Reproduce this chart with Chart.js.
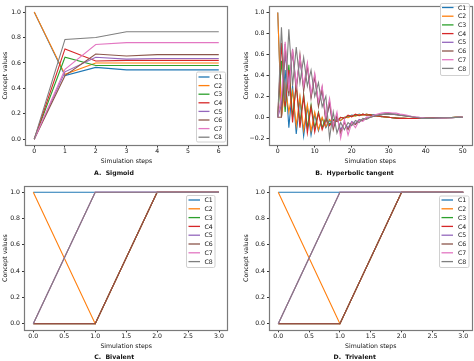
<!DOCTYPE html>
<html><head><meta charset="utf-8">
<script src="https://cdn.jsdelivr.net/npm/chart.js@4/dist/chart.umd.min.js"></script>
<style>
html,body{margin:0;padding:0;background:#fff;width:474px;height:361px;overflow:hidden;}
canvas{position:absolute;}
</style></head><body>
<canvas id="cA" width="237" height="180" style="left:0;top:0"></canvas>
<canvas id="cB" width="237" height="180" style="left:237px;top:0"></canvas>
<canvas id="cC" width="237" height="181" style="left:0;top:180px"></canvas>
<canvas id="cD" width="237" height="181" style="left:237px;top:180px"></canvas>
<script>
// ---------------- data ----------------
const conceptNames = ['C1','C2','C3','C4','C5','C6','C7','C8'];

const stepsSigmoid = [0,1,2,3,4,5,6];
const sigmoidC1 = [1, 0.50, 0.565, 0.545, 0.545, 0.545, 0.545];
const sigmoidC2 = [1, 0.51, 0.60, 0.60, 0.60, 0.60, 0.60];
const sigmoidC3 = [0, 0.645, 0.58, 0.58, 0.58, 0.58, 0.58];
const sigmoidC4 = [0, 0.71, 0.615, 0.62, 0.62, 0.62, 0.62];
const sigmoidC5 = [0, 0.53, 0.645, 0.63, 0.635, 0.635, 0.635];
const sigmoidC6 = [0, 0.50, 0.67, 0.655, 0.665, 0.665, 0.665];
const sigmoidC7 = [0, 0.55, 0.745, 0.76, 0.76, 0.76, 0.76];
const sigmoidC8 = [0, 0.785, 0.80, 0.845, 0.845, 0.845, 0.845];

const stepsTanh = [0,1,2,3,4,5,6,7,8,9,10,11,12,13,14,15,16,17,18,19,20,21,22,23,24,25,
  26,27,28,29,30,31,32,33,34,35,36,37,38,39,40,41,42,43,44,45,46,47,48,49,50];
const tanhC1 = [1, 0, 0.45, -0.1, 0.3, -0.16, 0.18, -0.18, 0.1, -0.17,
  0.03, -0.13, -0.01, -0.1, -0.03, -0.06, -0.02, -0.03, 0.0, 0.0,
  0.02, 0.015, 0.03, 0.02, 0.03, 0.02, 0.025, 0.01, 0.01, 0.0,
  0.0, -0.005, -0.005, -0.01, -0.01, -0.012, -0.012, -0.012, -0.01, -0.01,
  -0.01, -0.008, -0.007, -0.006, -0.005, -0.004, -0.003, -0.002, -0.001, 0, 0];
const tanhC2 = [1, 0, 0.3, 0.05, 0.25, -0.08, 0.2, -0.12, 0.12, -0.13,
  0.05, -0.12, 0.0, -0.09, -0.02, -0.06, -0.02, -0.03, 0.0, -0.005,
  0.015, 0.01, 0.025, 0.02, 0.03, 0.02, 0.02, 0.01, 0.01, 0.0,
  0.0, -0.005, -0.005, -0.01, -0.01, -0.01, -0.012, -0.012, -0.01, -0.01,
  -0.01, -0.008, -0.007, -0.006, -0.005, -0.004, -0.003, -0.002, -0.001, 0, 0];
const tanhC3 = [0, 0.54, 0.05, 0.5, 0.0, 0.3, -0.05, 0.22, -0.1, 0.12,
  -0.1, 0.05, -0.1, 0.0, -0.07, -0.02, -0.04, 0.0, -0.01, 0.015,
  0.005, 0.025, 0.015, 0.03, 0.02, 0.025, 0.015, 0.015, 0.005, 0.005,
  0.0, -0.005, -0.008, -0.01, -0.01, -0.012, -0.012, -0.01, -0.01, -0.01,
  -0.008, -0.008, -0.006, -0.005, -0.004, -0.003, -0.002, -0.002, -0.001, 0, 0];
const tanhC4 = [0, 0.71, 0.1, 0.45, -0.05, 0.33, -0.1, 0.2, -0.15, 0.1,
  -0.14, 0.04, -0.12, -0.02, -0.08, -0.03, -0.04, 0.0, -0.01, 0.02,
  0.005, 0.03, 0.015, 0.03, 0.02, 0.025, 0.01, 0.015, 0.005, 0.005,
  0.0, -0.005, -0.008, -0.01, -0.01, -0.012, -0.012, -0.01, -0.01, -0.01,
  -0.008, -0.008, -0.006, -0.005, -0.004, -0.003, -0.002, -0.002, -0.001, 0, 0];
const tanhC5 = [0, 0.12, 0.6, 0.3, 0.62, 0.3, 0.55, 0.28, 0.48, 0.2,
  0.38, 0.12, 0.25, -0.02, 0.12, -0.1, 0.0, -0.12, -0.05, -0.1,
  -0.04, -0.06, -0.02, -0.03, 0.0, 0.0, 0.02, 0.02, 0.03, 0.03,
  0.035, 0.03, 0.03, 0.02, 0.02, 0.01, 0.01, 0.0, 0.0, -0.005,
  -0.01, -0.01, -0.01, -0.008, -0.006, -0.005, -0.004, -0.003, -0.002, -0.001, 0];
const tanhC6 = [0, 0, 0.7, 0.2, 0.65, 0.25, 0.6, 0.25, 0.5, 0.18,
  0.4, 0.1, 0.28, -0.05, 0.15, -0.12, 0.02, -0.15, -0.05, -0.12,
  -0.05, -0.07, -0.03, -0.03, -0.01, 0.0, 0.01, 0.02, 0.025, 0.03,
  0.03, 0.03, 0.025, 0.02, 0.015, 0.01, 0.005, 0.0, -0.005, -0.008,
  -0.01, -0.01, -0.01, -0.008, -0.006, -0.005, -0.004, -0.003, -0.002, -0.001, 0];
const tanhC7 = [0, 0.2, 0.72, 0.25, 0.65, 0.3, 0.58, 0.3, 0.52, 0.22,
  0.42, 0.15, 0.3, 0.0, 0.18, -0.08, 0.05, -0.2, -0.02, -0.17,
  -0.05, -0.1, -0.03, -0.04, 0.0, 0.0, 0.02, 0.03, 0.04, 0.045,
  0.045, 0.04, 0.04, 0.03, 0.025, 0.02, 0.01, 0.005, 0.0, -0.005,
  -0.01, -0.01, -0.01, -0.01, -0.008, -0.006, -0.005, -0.003, -0.002, -0.001, 0];
const tanhC8 = [0, 0.86, 0.15, 0.84, 0.3, 0.67, 0.33, 0.57, 0.3, 0.45,
  0.2, 0.33, 0.1, 0.2, -0.2, 0.05, -0.15, -0.05, -0.12, -0.05,
  -0.08, -0.03, -0.05, -0.01, -0.02, 0.0, 0.01, 0.02, 0.025, 0.03,
  0.03, 0.03, 0.025, 0.02, 0.015, 0.01, 0.005, 0.0, -0.005, -0.01,
  -0.01, -0.01, -0.01, -0.008, -0.006, -0.005, -0.004, -0.003, -0.002, -0.001, 0];

const stepsBivalent = [0,1,2,3];
const bivalentC1 = [1,1,1,1];
const bivalentC2 = [1,0,1,1];
const bivalentC3 = [0,0,1,1];
const bivalentC4 = [0,0,1,1];
const bivalentC5 = [0,1,1,1];
const bivalentC6 = [0,0,1,1];
const bivalentC7 = [0,1,1,1];
const bivalentC8 = [0,1,1,1];

const stepsTrivalent = [0,1,2,3];
const trivalentC1 = [1,1,1,1];
const trivalentC2 = [1,0,1,1];
const trivalentC3 = [0,0,1,1];
const trivalentC4 = [0,0,1,1];
const trivalentC5 = [0,1,1,1];
const trivalentC6 = [0,0,1,1];
const trivalentC7 = [0,1,1,1];
const trivalentC8 = [0,1,1,1];

const xTicksSigmoid = [0,1,2,3,4,5,6];
const xTicksTanh = [0,10,20,30,40,50];
const xTicksState = [0,0.5,1,1.5,2,2.5,3];
const yTicksUnit = [0,0.2,0.4,0.6,0.8,1.0];
const yTicksTanh = [-0.2,0,0.2,0.4,0.6,0.8,1.0];

const panelTitles = ['A.  Sigmoid','B.  Hyperbolic tangent','C.  Bivalent','D.  Trivalent'];
const xAxisLabel = 'Simulation steps';
const yAxisLabel = 'Concept values';

// ---------------- styling ----------------
const palette = ['#1f77b4','#ff7f0e','#2ca02c','#d62728','#9467bd','#8c564b','#e377c2','#7f7f7f'];
const FONT = 'DejaVu Sans';
const TXT = '#111';
const fnt = {family: FONT, size: 6.2};

const framePlugin = {
  id: 'frame',
  afterDatasetsDraw(chart) {
    const {ctx, chartArea: a} = chart;
    ctx.save();
    ctx.strokeStyle = '#7a7a7a';
    ctx.lineWidth = 1.2;
    ctx.strokeRect(Math.round(a.left) + 0.5, Math.round(a.top) + 0.5,
      Math.round(a.right - a.left) - 1, Math.round(a.bottom - a.top) - 1);
    ctx.restore();
  }
};

const boxLegendPlugin = {
  id: 'boxLegend',
  afterDraw(chart, args, o) {
    const ctx = chart.ctx;
    ctx.save();
    const r = 1.5;
    ctx.beginPath();
    ctx.moveTo(o.x + r, o.y);
    ctx.lineTo(o.x + o.w - r, o.y);
    ctx.quadraticCurveTo(o.x + o.w, o.y, o.x + o.w, o.y + r);
    ctx.lineTo(o.x + o.w, o.y + o.h - r);
    ctx.quadraticCurveTo(o.x + o.w, o.y + o.h, o.x + o.w - r, o.y + o.h);
    ctx.lineTo(o.x + r, o.y + o.h);
    ctx.quadraticCurveTo(o.x, o.y + o.h, o.x, o.y + o.h - r);
    ctx.lineTo(o.x, o.y + r);
    ctx.quadraticCurveTo(o.x, o.y, o.x + r, o.y);
    ctx.closePath();
    ctx.fillStyle = 'rgba(255,255,255,0.85)';
    ctx.fill();
    ctx.strokeStyle = '#d0d0d0';
    ctx.lineWidth = 1;
    ctx.stroke();
    ctx.font = '6.2px "' + FONT + '"';
    ctx.textBaseline = 'middle';
    ctx.textAlign = 'left';
    chart.data.datasets.forEach((ds, i) => {
      const y = o.y0 + i * o.dy;
      ctx.strokeStyle = ds.borderColor;
      ctx.lineWidth = 1.3;
      ctx.beginPath();
      ctx.moveTo(o.lx0, y);
      ctx.lineTo(o.lx1, y);
      ctx.stroke();
      ctx.fillStyle = TXT;
      ctx.fillText(ds.label, o.tx, y + 0.5);
    });
    ctx.restore();
  }
};

function makeChart(id, c) {
  const n = c.series.length;
  const datasets = c.series.map((vals, i) => ({
    label: conceptNames[i],
    data: c.steps.map((s, j) => ({x: s, y: vals[j]})),
    borderColor: palette[i],
    backgroundColor: palette[i],
    borderWidth: 1.1,
    pointRadius: 0,
    fill: false,
    tension: 0,
    order: n - i   // later concepts drawn on top, as in the reference
  }));
  return new Chart(document.getElementById(id), {
    type: 'line',
    data: {datasets},
    options: {
      responsive: false,
      animation: false,
      devicePixelRatio: 1,
      events: [],
      layout: {padding: {top: c.padTop, right: c.padRight, left: 0, bottom: 0}},
      plugins: {
        legend: {display: false},
        tooltip: {enabled: false},
        title: {display: true, text: c.title, position: 'bottom', color: '#111',
          font: {family: FONT, size: 6.2, weight: 'bold'}, padding: {top: 0, bottom: c.titlePad}},
        boxLegend: c.legend
      },
      scales: {
        x: {
          type: 'linear', min: c.xMin, max: c.xMax,
          afterBuildTicks: s => { s.ticks = c.xTicks.map(v => ({value: v})); },
          afterFit: s => { s.height = c.xAxisH; },
          ticks: {callback: c.xFmt, font: fnt, color: TXT, padding: 0, maxRotation: 0, autoSkip: false},
          grid: {drawOnChartArea: false, drawTicks: true, tickLength: 2, color: '#333'},
          border: {display: false},
          title: {display: true, text: xAxisLabel, font: fnt, color: TXT, padding: {top: 0, bottom: c.xTitlePad}}
        },
        y: {
          type: 'linear', min: c.yMin, max: c.yMax,
          afterBuildTicks: s => { s.ticks = c.yTicks.map(v => ({value: v})); },
          afterFit: s => { s.width = c.yAxisW; },
          ticks: {callback: v => (v < 0 ? '\u2212' : '') + Math.abs(v).toFixed(1), font: fnt, color: TXT, padding: 2, autoSkip: false},
          grid: {drawOnChartArea: false, drawTicks: true, tickLength: 2, color: '#333'},
          border: {display: false},
          title: {display: true, text: yAxisLabel, font: fnt, color: TXT, padding: {top: c.yTitlePad, bottom: 0}}
        }
      }
    },
    plugins: [framePlugin, boxLegendPlugin]
  });
}

makeChart('cA', {
  steps: stepsSigmoid,
  series: [sigmoidC1, sigmoidC2, sigmoidC3, sigmoidC4, sigmoidC5, sigmoidC6, sigmoidC7, sigmoidC8],
  title: panelTitles[0], xMin: -0.3, xMax: 6.3, yMin: -0.05, yMax: 1.05,
  xTicks: xTicksSigmoid, yTicks: yTicksUnit, xFmt: v => String(v),
  padTop: 0.7, padRight: 9, titlePad: 3, xAxisH: 24, xTitlePad: 4.2, yAxisW: 25, yTitlePad: 1.7,
  legend: {x: 196.5, y: 72, w: 29, h: 70, y0: 77, dy: 8.6, lx0: 198.5, lx1: 209.5, tx: 214}
});

makeChart('cB', {
  steps: stepsTanh,
  series: [tanhC1, tanhC2, tanhC3, tanhC4, tanhC5, tanhC6, tanhC7, tanhC8],
  title: panelTitles[1], xMin: -2.5, xMax: 52.5, yMin: -0.27, yMax: 1.065,
  xTicks: xTicksTanh, yTicks: yTicksTanh, xFmt: v => String(v),
  padTop: 0.3, padRight: 2, titlePad: 3, xAxisH: 24, xTitlePad: 4.2, yAxisW: 31.5, yTitlePad: 5.8,
  legend: {x: 203.5, y: 3.5, w: 29, h: 72, y0: 7.5, dy: 8.7, lx0: 205, lx1: 216.5, tx: 221}
});

makeChart('cC', {
  steps: stepsBivalent,
  series: [bivalentC1, bivalentC2, bivalentC3, bivalentC4, bivalentC5, bivalentC6, bivalentC7, bivalentC8],
  title: panelTitles[2], xMin: -0.15, xMax: 3.15, yMin: -0.05, yMax: 1.05,
  xTicks: xTicksState, yTicks: yTicksUnit, xFmt: v => v.toFixed(1),
  padTop: 5.7, padRight: 8.7, titlePad: 0, xAxisH: 23.2, xTitlePad: 3.5, yAxisW: 24, yTitlePad: 1.7,
  legend: {x: 186.5, y: 15.5, w: 28.5, h: 72, y0: 20, dy: 8.8, lx0: 188.5, lx1: 200, tx: 204.5}
});

makeChart('cD', {
  steps: stepsTrivalent,
  series: [trivalentC1, trivalentC2, trivalentC3, trivalentC4, trivalentC5, trivalentC6, trivalentC7, trivalentC8],
  title: panelTitles[3], xMin: -0.15, xMax: 3.15, yMin: -0.05, yMax: 1.05,
  xTicks: xTicksState, yTicks: yTicksUnit, xFmt: v => v.toFixed(1),
  padTop: 5.7, padRight: 1.5, titlePad: 0, xAxisH: 23.2, xTitlePad: 3.5, yAxisW: 32, yTitlePad: 5.8,
  legend: {x: 202.5, y: 16, w: 29.5, h: 71.5, y0: 20, dy: 8.8, lx0: 204.5, lx1: 216, tx: 221}
});
</script>
</body></html>
